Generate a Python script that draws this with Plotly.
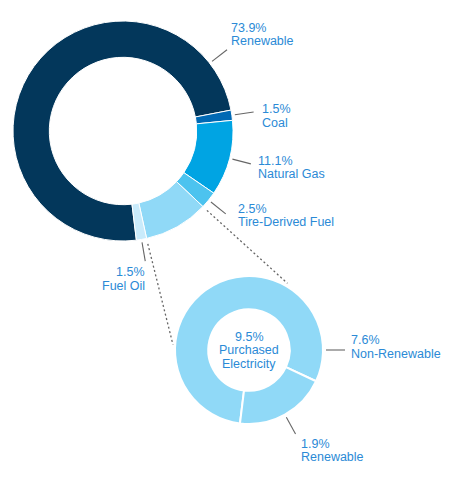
import math

import plotly.graph_objects as go

# energy mix, share of total (%)
sources = ['Renewable', 'Coal', 'Natural Gas', 'Tire-Derived Fuel',
           'Purchased Electricity', 'Fuel Oil']
shares = [73.9, 1.5, 11.1, 2.5, 9.5, 1.5]
colors = ['#03375b', '#0069b4', '#00a4e3', '#4cc3ef', '#90d9f7', '#c9ebfb']

# breakdown of purchased electricity (%)
elec_parts = ['Non-Renewable', 'Renewable']
elec_shares = [7.6, 1.9]
elec_colors = ['#90d9f7', '#90d9f7']

W, H = 451, 490
PAD = 8  # page body margin around the plot div
FW, FH = W - 2 * PAD, H - 2 * PAD
TEXT_BLUE = '#2b8ad6'
LINE_GREY = '#666666'
FONT = 'Liberation Sans'
FS = 12.5
LINE_H = 13.5

# donut geometry in window pixels
BIG = {'cx': 123, 'cy': 131, 'r': 110, 'hole': 0.67, 'rot': 173}
SMALL = {'cx': 249, 'cy': 350, 'r': 74, 'hole': 0.55, 'rot': 187}


def paper(x, y):
    return (x - PAD) / FW, 1 - (y - PAD) / FH


def domain(g):
    x0, y1 = paper(g['cx'] - g['r'], g['cy'] - g['r'])
    x1, y0 = paper(g['cx'] + g['r'], g['cy'] + g['r'])
    return {'x': [x0, x1], 'y': [y0, y1]}


def slice_angles(values, rot):
    """start, end angles (deg, clockwise from 12 o'clock) of each slice"""
    total = sum(values)
    out, acc = [], rot
    for v in values:
        span = 360 * v / total
        out.append((acc, acc + span))
        acc += span
    return out


def pt(g, angle, rho):
    a = math.radians(angle)
    return g['cx'] + rho * math.sin(a), g['cy'] - rho * math.cos(a)


fig = go.Figure()
fig.add_trace(go.Pie(
    labels=sources, values=shares, hole=BIG['hole'], sort=False,
    direction='clockwise', rotation=BIG['rot'], domain=domain(BIG),
    marker={'colors': colors, 'line': {'color': 'white', 'width': 1}},
    textinfo='none', hoverinfo='label+percent', showlegend=False,
))
fig.add_trace(go.Pie(
    labels=elec_parts, values=elec_shares, hole=SMALL['hole'], sort=False,
    direction='clockwise', rotation=SMALL['rot'], domain=domain(SMALL),
    marker={'colors': elec_colors, 'line': {'color': 'white', 'width': 2}},
    textinfo='none', hoverinfo='label+value', showlegend=False,
))

shapes, annotations = [], []


def add_text(x, y, text, xanchor='left'):
    px, py = paper(x, y)
    annotations.append({
        'x': px, 'y': py, 'xref': 'paper', 'yref': 'paper', 'text': text,
        'showarrow': False, 'xanchor': xanchor, 'yanchor': 'middle',
        'font': {'family': FONT, 'size': FS, 'color': TEXT_BLUE},
    })


def add_line(p0, p1, dash='solid', width=1.1):
    x0, y0 = paper(*p0)
    x1, y1 = paper(*p1)
    shapes.append({
        'type': 'line', 'xref': 'paper', 'yref': 'paper',
        'x0': x0, 'y0': y0, 'x1': x1, 'y1': y1,
        'line': {'color': LINE_GREY, 'width': width, 'dash': dash},
    })


def label_slices(g, names, values, placement, angle_override, skip=()):
    angles = slice_angles(values, g['rot'])
    for name, v, (a0, a1) in zip(names, values, angles):
        if name in skip:
            continue
        ang = angle_override.get(name, (a0 + a1) / 2)
        start = pt(g, ang, g['r'] + 3)
        end = pt(g, ang, g['r'] + 22)
        add_line(start, end)
        xanchor, dx, dy = placement[name]
        add_text(end[0] + dx, end[1] + dy, f'{v}%', xanchor)
        add_text(end[0] + dx, end[1] + dy + LINE_H, name, xanchor)


# (xanchor, dx, dy of first text line from leader end)
big_place = {
    'Renewable': ('left', 2, -22),
    'Coal': ('left', 6, -3),
    'Natural Gas': ('left', 5, -3),
    'Tire-Derived Fuel': ('left', 10, -5),
    'Fuel Oil': ('right', 2, 11),
}
small_place = {
    'Non-Renewable': ('left', 4, -10),
    'Renewable': ('left', 3, 10),
}

label_slices(BIG, sources, shares, big_place, {'Renewable': 52},
             skip=('Purchased Electricity',))
label_slices(SMALL, elec_parts, elec_shares, small_place, {'Non-Renewable': 90})

# dashed connectors from the purchased electricity slice to the breakdown
pe = sources.index('Purchased Electricity')
pe_a0, pe_a1 = slice_angles(shares, BIG['rot'])[pe]
add_line(pt(BIG, pe_a0, BIG['r'] * 1.05), pt(SMALL, 30, SMALL['r'] * 1.04),
         dash='2px,2.5px', width=1.3)
add_line(pt(BIG, pe_a1, BIG['r'] * 1.05), pt(SMALL, 274, SMALL['r'] * 1.03),
         dash='2px,2.5px', width=1.3)

# centre label of the breakdown donut
center_lines = [f'{shares[pe]}%', 'Purchased', 'Electricity']
for i, t in enumerate(center_lines):
    add_text(SMALL['cx'], SMALL['cy'] + (i - 1) * LINE_H, t, xanchor='center')

fig.update_layout(
    width=FW, height=FH, margin={'l': 0, 'r': 0, 't': 0, 'b': 0},
    paper_bgcolor='white', plot_bgcolor='white',
    shapes=shapes, annotations=annotations,
)

fig.write_html('out.html')
